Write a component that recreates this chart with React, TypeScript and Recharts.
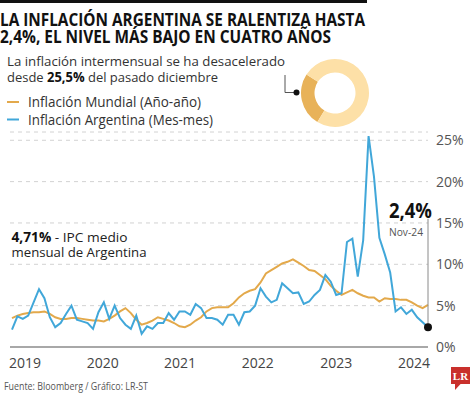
import { LineChart, Line, XAxis, YAxis, CartesianGrid, ReferenceLine, ReferenceDot, PieChart, Pie, Cell } from "recharts";

// Inflación Argentina, mes a mes (%)
const argentina = [
  2.1, 3.7, 3.4, 3.8, 5.4, 7.0, 5.9, 3.6, 2.4, 2.9,
  4.0, 5.0, 3.3, 3.1, 2.9, 2.2, 4.2, 5.4, 3.4, 5.0,
  3.5, 2.7, 2.2, 3.8, 1.6, 2.5, 2.2, 2.9, 2.9, 4.1,
  3.3, 4.3, 4.3, 3.9, 5.2, 4.7, 3.5, 3.5, 3.3, 2.7,
  3.9, 3.9, 2.7, 4.2, 4.3, 5.0, 7.1, 6.1, 5.4, 5.7,
  7.7, 7.1, 6.5, 6.6, 5.2, 5.5, 6.3, 6.9, 8.7, 7.9,
  6.3, 6.5, 12.7, 13.1, 8.5, 12.9, 25.5, 20.6, 13.2, 11.2,
  9.0, 4.3, 4.8, 4.0, 4.5, 3.6, 3.0, 2.4,
];

// Inflación mundial, año contra año (%)
const mundial = [
  3.5, 3.8, 4.0, 4.1, 4.2, 4.2, 4.3, 4.0, 3.6, 3.4,
  3.4, 3.5, 3.5, 3.4, 3.3, 3.2, 3.2, 3.1, 3.4, 3.8,
  4.3, 4.7, 4.1, 3.3, 2.7, 2.9, 3.2, 3.6, 3.4, 3.2,
  2.9, 2.5, 2.4, 2.7, 3.2, 3.6, 4.3, 4.7, 4.8, 4.8,
  4.8, 5.3, 6.0, 6.5, 6.8, 7.0, 7.8, 8.9, 9.3, 9.7,
  10.1, 10.3, 10.6, 10.2, 9.8, 9.3, 9.2, 8.7, 8.2, 7.4,
  6.8, 6.3, 6.6, 6.9, 6.5, 6.2, 6.0, 6.0, 5.5, 5.9,
  5.8, 5.8, 5.7, 5.7, 5.4, 5.0, 4.7, 5.1,
];

const yearLabels = ["2019", "2020", "2021", "2022", "2023", "2024"];
const yearTickPos = [2.4, 16.8, 31.1, 45.5, 60.0, 74.4];
const yTicks = [0, 5, 10, 15, 20, 25];
const donutValues = [25.5, 74.5];

const ORANGE = "#e3a94b";
const BLUE = "#41a7d9";
const FONT = "'Open Sans', sans-serif";

const data = argentina.map((v, i) => ({ i, argentina: v, mundial: mundial[i] }));
const lastIdx = data.length - 1;
const donutData = donutValues.map((value, k) => ({ name: k === 0 ? "actual" : "resto", value }));

export default function App() {
  return (
    <div style={{ position: "absolute", left: 0, top: 0, width: 474, height: 395, background: "#fff", fontFamily: FONT }}>
      <div style={{ position: "absolute", left: 0, top: 0 }}>
        <LineChart width={474} height={395} data={data} margin={{ top: 132, right: 6, bottom: 18, left: 10 }}>
          <CartesianGrid vertical={false} stroke="#d2d2d2" strokeDasharray="4 4" />
          <XAxis
            type="number"
            dataKey="i"
            domain={[0, lastIdx]}
            ticks={yearTickPos}
            tickFormatter={(v) => yearLabels[yearTickPos.indexOf(v)] ?? ""}
            height={30}
            padding={{ left: 2, right: 0 }}
            tickLine={false}
            tickMargin={5}
            axisLine={{ stroke: "#a8a8a8", strokeWidth: 2 }}
            tick={{ fontSize: 14, fill: "#444", fontFamily: FONT }}
            interval={0}
          />
          <YAxis
            orientation="right"
            width={40}
            domain={[0, 26]}
            ticks={yTicks}
            axisLine={false}
            tickLine={false}
            tickMargin={2}
            tickFormatter={(v) => `${v}%`}
            tick={{ fontSize: 14, fill: "#555", fontFamily: FONT, textAnchor: "start" }}
          />
          <Line type="linear" dataKey="mundial" stroke={ORANGE} strokeWidth={2} dot={false} isAnimationActive={false} />
          <Line type="linear" dataKey="argentina" stroke={BLUE} strokeWidth={2} dot={false} isAnimationActive={false} />
          <ReferenceLine
            segment={[{ x: lastIdx, y: argentina[lastIdx] }, { x: lastIdx, y: 15.5 }]}
            stroke="#8a8a8a"
            strokeWidth={1}
          />
          <ReferenceDot x={lastIdx} y={argentina[lastIdx]} r={4} fill="#111" stroke="none" />
        </LineChart>
      </div>

      <div style={{ position: "absolute", left: 290, top: 48 }}>
        <PieChart width={80} height={80}>
          <Pie
            data={donutData}
            dataKey="value"
            cx={40}
            cy={40}
            innerRadius={20.5}
            outerRadius={34}
            startAngle={147}
            endAngle={507}
            stroke="none"
            isAnimationActive={false}
          >
            <Cell fill="#e8b259" />
            <Cell fill="#fde0a7" />
          </Pie>
        </PieChart>
      </div>

      <svg width={474} height={395} style={{ position: "absolute", left: 0, top: 0, pointerEvents: "none" }} fontFamily={FONT}>
        <rect x={0} y={0} width={367} height={3} fill="#111" />
        <text x={0} y={26} fontSize={17} fontWeight={700} fill="#111" textLength={365} lengthAdjust="spacingAndGlyphs">
          LA INFLACIÓN ARGENTINA SE RALENTIZA HASTA
        </text>
        <text x={0} y={43} fontSize={17} fontWeight={700} fill="#111" textLength={331} lengthAdjust="spacingAndGlyphs">
          2,4%, EL NIVEL MÁS BAJO EN CUATRO AÑOS
        </text>

        <text x={7} y={66} fontSize={13.5} fill="#333" textLength={278} lengthAdjust="spacingAndGlyphs">
          La inflación intermensual se ha desacelerado
        </text>
        <text x={7} y={81.5} fontSize={13.5} fill="#333" textLength={211} lengthAdjust="spacingAndGlyphs">
          desde <tspan fontWeight={700} fill="#111">25,5%</tspan> del pasado diciembre
        </text>

        <line x1={7} x2={19} y1={102} y2={102} stroke={ORANGE} strokeWidth={2} />
        <text x={28} y={107} fontSize={14} fill="#333" textLength={173} lengthAdjust="spacingAndGlyphs">
          Inflación Mundial (Año-año)
        </text>
        <line x1={7} x2={19} y1={119.5} y2={119.5} stroke={BLUE} strokeWidth={2} />
        <text x={28} y={124.5} fontSize={14} fill="#333" textLength={185} lengthAdjust="spacingAndGlyphs">
          Inflación Argentina (Mes-mes)
        </text>

        <polyline points="296,92.5 285,92.5 285,75" fill="none" stroke="#555" strokeWidth={1} />
        <circle cx={296.5} cy={92.5} r={3} fill="#111" />

        <text x={11.5} y={242} fontSize={13.5} fill="#222" textLength={116} lengthAdjust="spacingAndGlyphs">
          <tspan fontWeight={700} fill="#111">4,71%</tspan> - IPC medio
        </text>
        <text x={11.5} y={257} fontSize={13.5} fill="#222" textLength={135} lengthAdjust="spacingAndGlyphs">
          mensual de Argentina
        </text>

        <text x={432} y={218} textAnchor="end" fontSize={21} fontWeight={700} fill="#111" textLength={43} lengthAdjust="spacingAndGlyphs">
          2,4%
        </text>
        <text x={423} y={236} textAnchor="end" fontSize={11} fill="#555" textLength={34} lengthAdjust="spacingAndGlyphs">
          Nov-24
        </text>

        <text x={4} y={390} fontSize={10.5} fill="#555" textLength={144} lengthAdjust="spacingAndGlyphs">
          Fuente: Bloomberg / Gráfico: LR-ST
        </text>

        <rect x={451} y={367} width={19} height={17} fill="#c9302c" />
        <polygon points="455,383.5 461,383.5 455,390" fill="#c9302c" />
        <text x={460.5} y={380} textAnchor="middle" fontSize={11} fontWeight={700} fill="#fff" fontFamily="'Liberation Serif', serif">
          LR
        </text>
      </svg>
    </div>
  );
}
